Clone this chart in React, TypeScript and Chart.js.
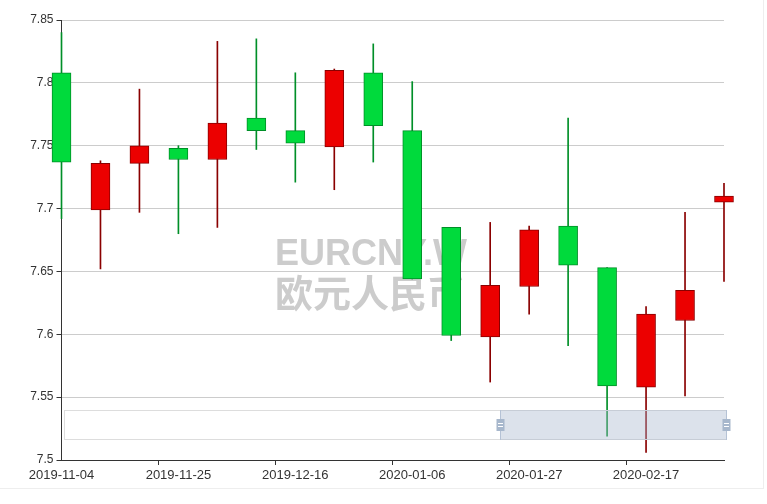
import React, { useEffect, useRef } from 'react';
import { Chart, registerables } from 'chart.js';

Chart.register(...registerables);

const dates = [
  '2019-11-04', '2019-11-11', '2019-11-18', '2019-11-25', '2019-12-02', '2019-12-09',
  '2019-12-16', '2019-12-23', '2019-12-30', '2020-01-06', '2020-01-13', '2020-01-20',
  '2020-01-27', '2020-02-03', '2020-02-10', '2020-02-17', '2020-02-24', '2020-03-02',
];
const opens = [7.808, 7.699, 7.736, 7.748, 7.739, 7.772, 7.762, 7.749, 7.808, 7.762, 7.685, 7.598, 7.638, 7.686, 7.653, 7.558, 7.611, 7.705];
const closes = [7.737, 7.736, 7.750, 7.739, 7.768, 7.762, 7.752, 7.810, 7.766, 7.644, 7.599, 7.639, 7.683, 7.655, 7.559, 7.616, 7.635, 7.710];
const lows = [7.692, 7.652, 7.697, 7.680, 7.685, 7.747, 7.721, 7.715, 7.737, 7.644, 7.595, 7.562, 7.616, 7.591, 7.519, 7.506, 7.551, 7.642];
const highs = [7.840, 7.738, 7.795, 7.750, 7.833, 7.835, 7.808, 7.811, 7.831, 7.801, 7.685, 7.689, 7.686, 7.772, 7.653, 7.622, 7.697, 7.720];

const yMin = 7.5;
const yMax = 7.85;
const yStep = 0.05;
const labelEvery = 3;
const watermarkTitle = 'EURCNY.W';
const watermarkName = '欧元人民币';
const zoomStart = 65.9; // percent
const zoomEnd = 100;

const UP_FILL = '#ec0000';
const UP_BORDER = '#8A0000';
const DOWN_FILL = '#00da3c';
const DOWN_BORDER = '#008F28';

const isUp = opens.map((o, i) => closes[i] >= o);

const watermarkPlugin = {
  id: 'watermark',
  beforeDatasetsDraw(chart: any) {
    const ctx = chart.ctx;
    ctx.save();
    ctx.fillStyle = '#cccccc';
    ctx.textAlign = 'center';
    ctx.textBaseline = 'alphabetic';
    ctx.font = 'bold 36px "Liberation Sans", Arial, sans-serif';
    ctx.fillText(watermarkTitle, 371, 265);
    ctx.textBaseline = 'middle';
    ctx.font = 'bold 38px "Noto Sans CJK SC", sans-serif';
    ctx.fillText(watermarkName, 370, 293);
    ctx.restore();
  },
};

const sliderPlugin = {
  id: 'slider',
  afterDraw(chart: any) {
    const ctx = chart.ctx;
    const x0 = 64.5, x1 = 726.5, y0 = 410.5, y1 = 439.5;
    const w = x1 - x0;
    const s = x0 + (w * zoomStart) / 100;
    const e = x0 + (w * zoomEnd) / 100;
    ctx.save();
    ctx.strokeStyle = '#dddddd';
    ctx.lineWidth = 1;
    ctx.strokeRect(x0, y0, w, y1 - y0);
    ctx.fillStyle = 'rgba(167,183,204,0.4)';
    ctx.fillRect(s, y0 - 0.5, e - s, y1 - y0 + 1);
    ctx.strokeStyle = '#b5c2d5';
    ctx.beginPath();
    ctx.moveTo(Math.round(s) - 0.5, y0 - 0.5);
    ctx.lineTo(Math.round(s) - 0.5, y1 + 0.5);
    ctx.moveTo(Math.round(e) - 0.5, y0 - 0.5);
    ctx.lineTo(Math.round(e) - 0.5, y1 + 0.5);
    ctx.stroke();
    [s, e].forEach((hx) => {
      const cx = Math.round(hx) - 0.5;
      ctx.fillStyle = '#a7b7cc';
      ctx.fillRect(cx - 4, 419, 8, 12);
      ctx.fillStyle = '#ffffff';
      ctx.fillRect(cx - 2.5, 423, 5, 1);
      ctx.fillRect(cx - 2.5, 426, 5, 1);
    });
    ctx.restore();
  },
};

export default function App() {
  const ref = useRef<HTMLCanvasElement | null>(null);
  useEffect(() => {
    if (!ref.current) return;
    Chart.defaults.font.family = '"Liberation Sans", Arial, sans-serif';
    const chart = new Chart(ref.current, {
      type: 'bar',
      data: {
        labels: dates,
        datasets: [
          {
            label: 'body',
            data: opens.map((o, i) => [o, closes[i]]) as any,
            backgroundColor: isUp.map((u) => (u ? UP_FILL : DOWN_FILL)),
            borderColor: isUp.map((u) => (u ? UP_BORDER : DOWN_BORDER)),
            borderWidth: 1,
            borderSkipped: false,
            barThickness: 19,
            grouped: false,
            order: 0,
            clip: false as any,
          },
          {
            label: 'wick',
            data: lows.map((l, i) => [l, highs[i]]) as any,
            backgroundColor: isUp.map((u) => (u ? UP_BORDER : DOWN_BORDER)),
            borderWidth: 0,
            barThickness: 1,
            grouped: false,
            order: 1,
            clip: false as any,
          },
        ],
      },
      options: {
        animation: false,
        responsive: false,
        maintainAspectRatio: false,
        layout: { padding: { top: 20, right: 39, bottom: 0, left: 0 } },
        plugins: { legend: { display: false }, tooltip: { enabled: false } },
        scales: {
          x: {
            type: 'category',
            offset: false,
            afterFit: (s: any) => { s.height = 28; },
            grid: {
              drawOnChartArea: false,
              drawTicks: true,
              tickLength: 5,
              tickColor: (c: any) => (c.index % labelEvery === 0 ? '#333333' : 'rgba(0,0,0,0)'),
            },
            border: { color: '#333333', width: 1 },
            ticks: {
              autoSkip: false,
              maxRotation: 0,
              padding: 3,
              color: '#333333',
              font: { size: 13 },
              callback: (_v: any, i: number) => (i % labelEvery === 0 ? dates[i] : ''),
            },
          },
          y: {
            min: yMin,
            max: yMax,
            afterFit: (s: any) => { s.width = 61.5; },
            grid: {
              color: '#cccccc',
              tickColor: '#333333',
              tickLength: 5,
              drawTicks: true,
            },
            border: { color: '#333333', width: 1 },
            ticks: {
              stepSize: yStep,
              padding: 3,
              color: '#333333',
              font: { size: 12 },
              callback: (v: any) => String(+Number(v).toFixed(2)),
            },
          },
        },
      },
      plugins: [watermarkPlugin, sliderPlugin],
    });
    return () => chart.destroy();
  }, []);
  return (
    <div
      style={{
        position: 'absolute',
        left: 0,
        top: 0,
        width: 763,
        height: 488,
        borderRight: '1px solid #eeeeee',
        borderBottom: '1px solid #eeeeee',
        background: '#fff',
      }}
    >
      <canvas ref={ref} width={763} height={488} style={{ display: 'block', width: 763, height: 488 }} />
    </div>
  );
}
